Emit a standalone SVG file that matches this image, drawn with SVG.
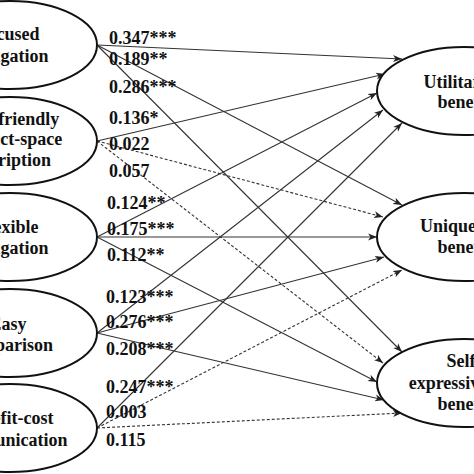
<svg xmlns="http://www.w3.org/2000/svg" width="474" height="474" viewBox="0 0 474 474">
<style>
.node ellipse{fill:#fff;stroke:#111;stroke-width:2}
text{font-family:"Liberation Serif","Times New Roman",serif;font-weight:bold;font-size:18px;fill:#111}
.nt{text-anchor:middle}
.c line{stroke:#333;stroke-width:1.1;fill:none}
.c .d{stroke-dasharray:3,2}
</style>
<defs>
<marker id="ah" markerUnits="userSpaceOnUse" markerWidth="10" markerHeight="8" refX="9" refY="4" orient="auto">
<path d="M0,0.5 L9,4 L0,7.5 L2.5,4 Z" fill="#222"/>
</marker>
</defs>
<rect width="474" height="474" fill="#fff"/>
<g class="c">
<line x1="97" y1="45" x2="402" y2="59" marker-end="url(#ah)"/>
<line x1="97" y1="45" x2="402" y2="205" marker-end="url(#ah)"/>
<line x1="97" y1="45" x2="402" y2="352" marker-end="url(#ah)"/>
<line x1="97" y1="141" x2="385" y2="74" marker-end="url(#ah)"/>
<line class="d" x1="97" y1="141" x2="383" y2="217" marker-end="url(#ah)"/>
<line class="d" x1="97" y1="141" x2="383" y2="363" marker-end="url(#ah)"/>
<line x1="97" y1="237" x2="377" y2="93" marker-end="url(#ah)"/>
<line x1="97" y1="237" x2="377" y2="237" marker-end="url(#ah)"/>
<line x1="97" y1="237" x2="377" y2="382" marker-end="url(#ah)"/>
<line x1="97" y1="333" x2="383" y2="110" marker-end="url(#ah)"/>
<line x1="97" y1="333" x2="384" y2="257" marker-end="url(#ah)"/>
<line x1="97" y1="333" x2="384" y2="400" marker-end="url(#ah)"/>
<line x1="97" y1="428" x2="402" y2="123" marker-end="url(#ah)"/>
<line class="d" x1="97" y1="428" x2="402" y2="270" marker-end="url(#ah)"/>
<line class="d" x1="97" y1="428" x2="402" y2="413" marker-end="url(#ah)"/>
</g>
<g id="focused-navigation" class="node"><ellipse cx="10" cy="45" rx="87" ry="44"/><text class="nt" x="8" y="40">Focused</text><text class="nt" x="8" y="62">navigation</text></g>
<g id="product-space-description" class="node"><ellipse cx="10" cy="141" rx="87" ry="44"/><text class="nt" x="8" y="125">User-friendly</text><text class="nt" x="8" y="145">product-space</text><text class="nt" x="8" y="166">description</text></g>
<g id="flexible-navigation" class="node"><ellipse cx="10" cy="237" rx="87" ry="44"/><text class="nt" x="8" y="233">Flexible</text><text class="nt" x="8" y="254">navigation</text></g>
<g id="easy-comparison" class="node"><ellipse cx="10" cy="333" rx="87" ry="44"/><text class="nt" x="8" y="330">Easy</text><text class="nt" x="8" y="351">comparison</text></g>
<g id="benefit-cost-communication" class="node"><ellipse cx="10" cy="428" rx="87" ry="44"/><text class="nt" x="8" y="424">Benefit-cost</text><text class="nt" x="8" y="446">communication</text></g>
<g id="utilitarian-benefit" class="node"><ellipse cx="464" cy="91" rx="87" ry="44"/><text class="nt" x="464" y="88">Utilitarian</text><text class="nt" x="464" y="108">benefit</text></g>
<g id="uniqueness-benefit" class="node"><ellipse cx="464" cy="237" rx="87" ry="44"/><text class="nt" x="464" y="232">Uniqueness</text><text class="nt" x="464" y="253">benefit</text></g>
<g id="self-expressiveness-benefit" class="node"><ellipse cx="464" cy="383" rx="87" ry="44"/><text class="nt" x="464" y="367">Self-</text><text class="nt" x="464" y="389">expressiveness</text><text class="nt" x="464" y="410">benefit</text></g>
<g id="labels">
<text x="109" y="44">0.347***</text>
<text x="109" y="65">0.189**</text>
<text x="109" y="93">0.286***</text>
<text x="109" y="124">0.136*</text>
<text x="109" y="150">0.022</text>
<text x="109" y="177">0.057</text>
<text x="107" y="209">0.124**</text>
<text x="107" y="235">0.175***</text>
<text x="107" y="261">0.112**</text>
<text x="106" y="303">0.123***</text>
<text x="106" y="328">0.276***</text>
<text x="106" y="355">0.208***</text>
<text x="106" y="393">0.247***</text>
<text x="106" y="418">0.003</text>
<text x="106" y="446">0.115</text>
</g>
</svg>
